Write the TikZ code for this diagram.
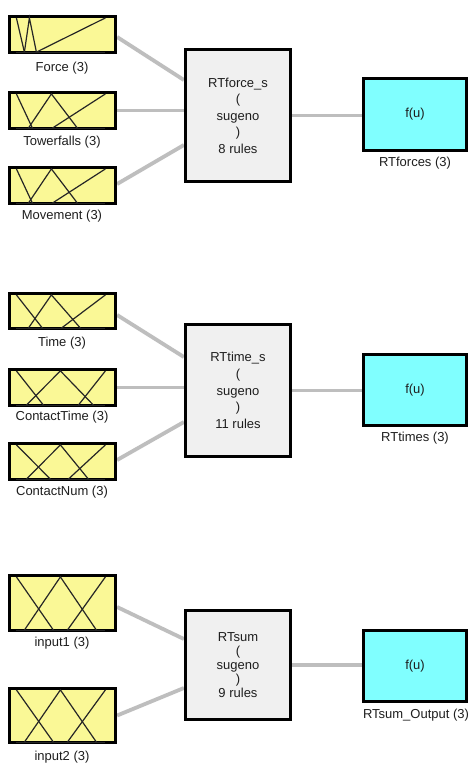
\documentclass[tikz,border=0pt]{standalone}
\usepackage{fontspec}
\setmainfont{Liberation Sans}
\usetikzlibrary{calc,backgrounds}
\definecolor{mfyellow}{RGB}{250,248,150}
\definecolor{fucyan}{RGB}{128,255,255}
\definecolor{rulegray}{RGB}{240,240,240}
\definecolor{conngray}{RGB}{190,190,190}
\definecolor{txt}{RGB}{30,30,30}
\newcommand\drawmf[6]{%
 \draw[mfline] ($(#1.north west)+(8.5,3)$) -- ($(#1.south west)+(#2,-2)$);
 \draw[mfline] ($(#1.south west)+(#3,-2)$) -- ($(#1.north west)+(#4,3)$) -- ($(#1.south west)+(#5,-2)$);
 \draw[mfline] ($(#1.south west)+(#6,-2)$) -- ($(#1.north west)+(97.5,3)$);
 \draw[mfline] ($(#1.south west)+(8.5,-2)$) -- ($(#1.south west)+(97.5,-2)$);
}
\begin{document}
\begin{tikzpicture}[x=1pt,y=-1pt,
  inbox/.style={draw=black,line width=3.2pt,fill=mfyellow,minimum width=106pt,inner sep=0pt},
  rulebox/.style={draw=black,line width=3.2pt,fill=rulegray,minimum width=105pt,inner sep=0pt,align=center,text=txt},
  fubox/.style={draw=black,line width=3.2pt,fill=fucyan,minimum width=103pt,inner sep=0pt,text=txt},
  lab/.style={text=txt,inner sep=0pt},
  mfline/.style={draw=black!85,line width=1.2pt},
  conn/.style={draw=conngray,line width=3.8pt},
  font=\fontsize{13}{15}\selectfont]
\begin{pgfonlayer}{background}
\fill[white] (0,0) rectangle (474,769);
\end{pgfonlayer}
\useasboundingbox (0,0) rectangle (474,769);

% ---------- block 1 ----------
\node[inbox,minimum height=36pt] (F) at (62.5,34.5) {};
\node[inbox,minimum height=36pt] (TF) at (62.5,110.5) {};
\node[inbox,minimum height=36pt] (MV) at (62.5,185.5) {};
\node[lab] (lF) at (62,68) {Force (3)};
\node[lab] (lTF) at (62,142) {Towerfalls (3)};
\node[lab] (lMV) at (62,216) {Movement (3)};
\node[rulebox,minimum height=132pt,font=\fontsize{13}{16.5}\selectfont] (R1) at (238,115.5) {RTforce\_s\\(\\sugeno\\)\\8 rules};
\node[fubox,minimum height=72pt] (U1) at (415,114.5) {f(u)};
\node[lab] (lU1) at (415,163) {RTforces (3)};
\drawmf{F}{16.5}{16.5}{21.5}{28.5}{28.5}
\drawmf{TF}{24.5}{20.5}{43.5}{69.5}{44.5}
\drawmf{MV}{24.5}{20.5}{43.5}{69.5}{44.5}

% ---------- block 2 ----------
\node[inbox,minimum height=35pt] (TI) at (62.5,311) {};
\node[inbox,minimum height=36pt] (CT) at (62.5,387.5) {};
\node[inbox,minimum height=36pt] (CN) at (62.5,461.5) {};
\node[lab] (lTI) at (62,343) {Time (3)};
\node[lab] (lCT) at (62,417) {ContactTime (3)};
\node[lab] (lCN) at (62,492) {ContactNum (3)};
\node[rulebox,minimum height=132pt,font=\fontsize{13}{16.8}\selectfont] (R2) at (238,390.5) {RTtime\_s\\(\\sugeno\\)\\11 rules};
\node[fubox,minimum height=71pt] (U2) at (415,390) {f(u)};
\node[lab] (lU2) at (415,438) {RTtimes (3)};
\drawmf{TI}{34.5}{20.5}{43.5}{72.5}{53.5}
\drawmf{CT}{35.5}{18.5}{52.5}{85.5}{70.5}
\drawmf{CN}{42.5}{18.5}{52.5}{80.5}{60.5}

% ---------- block 3 ----------
\node[inbox,minimum height=55pt] (I1) at (62.5,603) {};
\node[inbox,minimum height=54pt] (I2) at (62.5,715.5) {};
\node[lab] (lI1) at (62,643) {input1 (3)};
\node[lab] (lI2) at (62,757) {input2 (3)};
\node[rulebox,minimum height=109pt,font=\fontsize{13}{13.8}\selectfont] (R3) at (238,665) {RTsum\\(\\sugeno\\)\\9 rules};
\node[fubox,minimum height=71pt] (U3) at (415,666) {f(u)};
\node[lab] (lU3) at (416,715) {RTsum\_Output (3)};
\drawmf{I1}{45.5}{16.5}{52.5}{88.5}{59.5}
\drawmf{I2}{45.5}{16.5}{52.5}{88.5}{59.5}

% ---------- connectors ----------
\begin{pgfonlayer}{background}
\draw[conn] ([yshift=-2.5pt]F.east) -- ([yshift=35.5pt]R1.west);
\draw[conn] (TF.east) -- (TF.east -| R1.west);
\draw[conn] ([yshift=1.5pt]MV.east) -- ([yshift=-29.5pt]R1.west);
\draw[conn] (R1.east) -- (R1.east -| U1.west);
\draw[conn] ([yshift=-4pt]TI.east) -- ([yshift=33.5pt]R2.west);
\draw[conn] (CT.east) -- (CT.east -| R2.west);
\draw[conn] ([yshift=1.5pt]CN.east) -- ([yshift=-31.5pt]R2.west);
\draw[conn] (R2.east) -- (R2.east -| U2.west);
\draw[conn] ([yshift=-4pt]I1.east) -- ([yshift=26pt]R3.west);
\draw[conn] (I2.east) -- ([yshift=-23pt]R3.west);
\draw[conn] (R3.east) -- (R3.east -| U3.west);
\end{pgfonlayer}
\end{tikzpicture}
\end{document}
